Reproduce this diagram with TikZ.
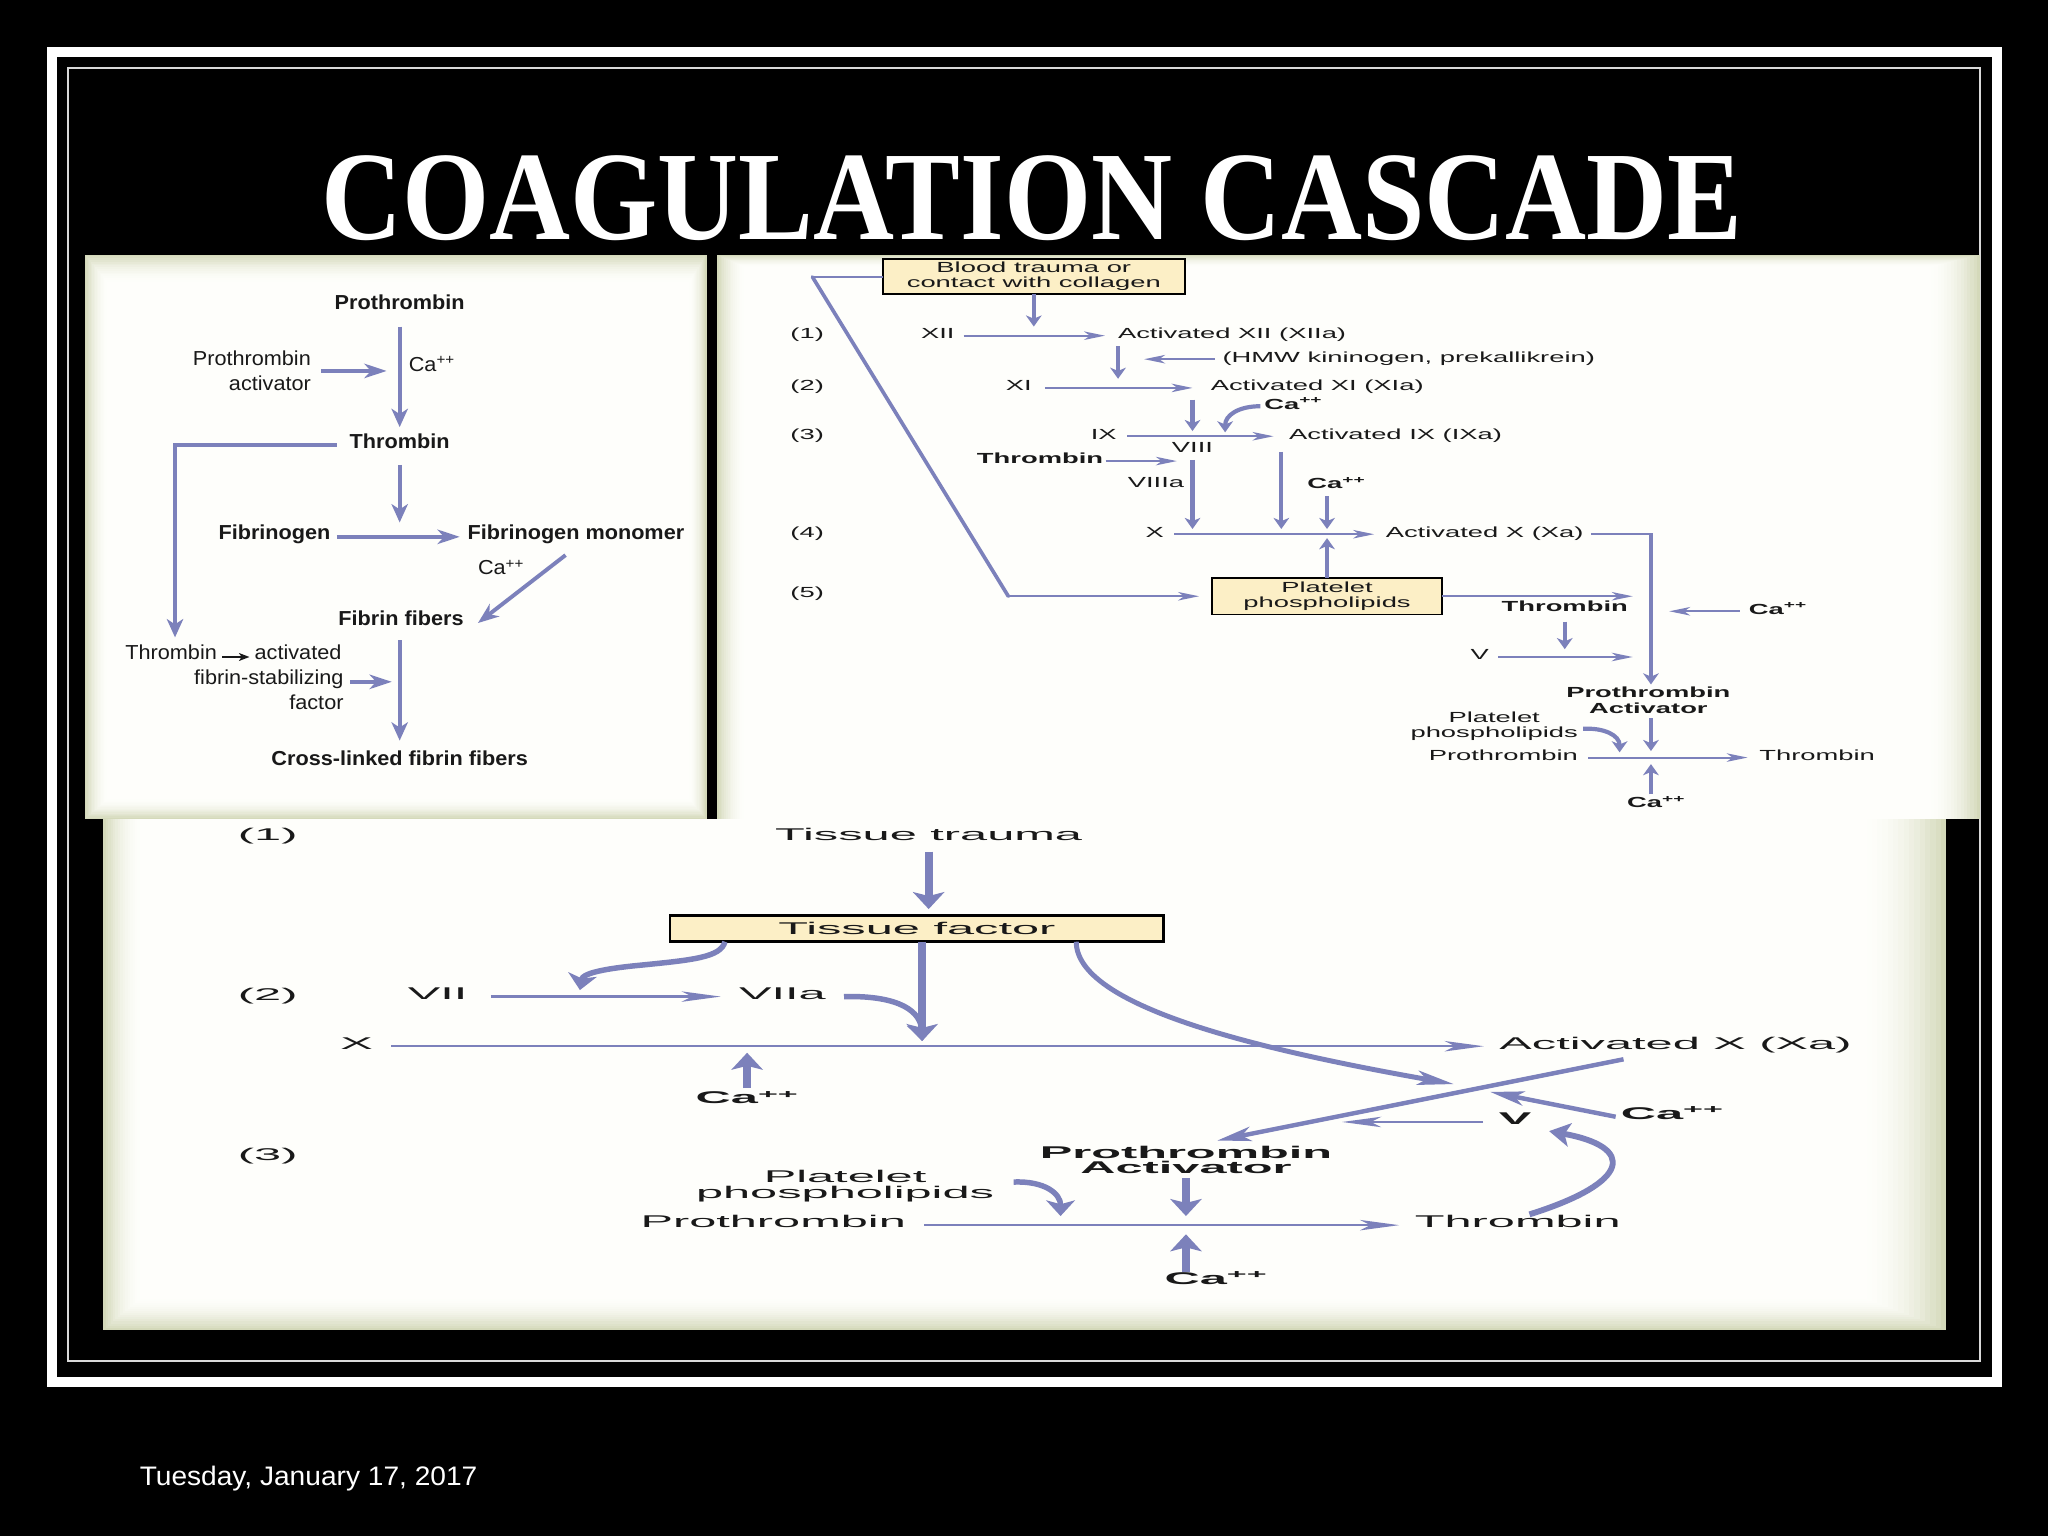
\documentclass[tikz,border=0pt]{standalone}
\usepackage{fontspec}
\usetikzlibrary{arrows.meta,calc}
\newfontfamily\lpfont[FakeStretch=1.07]{Liberation Sans}
\newfontfamily\trfont[FakeStretch=1.87]{Liberation Sans}
\newfontfamily\btfont[FakeStretch=2.87]{Liberation Sans}
\newfontfamily\ttlfont[FakeStretch=0.885]{Liberation Serif}
\newfontfamily\datefont[FakeStretch=1.05]{Liberation Sans}
\definecolor{arr}{RGB}{124,129,187}
\definecolor{boxc}{RGB}{252,239,198}
\definecolor{edgec}{RGB}{212,217,186}
\definecolor{paperc}{RGB}{254,254,251}
\definecolor{txt}{RGB}{25,25,25}
\newcommand\vign[8]{%
  \foreach \k in {0,...,16}{%
    \pgfmathsetmacro\fr{\k/16}%
    \pgfmathtruncatemacro\pc{100*(1-\fr)*(1-\fr)}%
    \fill[edgec!\pc!paperc] ({#1+\fr*#5},{#2+\fr*#6}) rectangle ({#3-\fr*#7},{#4-\fr*#8});
  }}
\tikzset{
  every node/.style={inner sep=0pt, outer sep=0pt, text=txt},
  lpr/.style={font=\lpfont\fontsize{15.5}{19}\selectfont, anchor=mid},
  lpb/.style={font=\lpfont\bfseries\fontsize{15.5}{19}\selectfont, anchor=mid},
  trr/.style={font=\trfont\fontsize{11.2}{11}\selectfont, anchor=mid},
  trb/.style={font=\trfont\bfseries\fontsize{11.2}{12}\selectfont, anchor=mid},
  btr/.style={font=\btfont\fontsize{13}{12}\selectfont, anchor=mid},
  btb/.style={font=\btfont\bfseries\fontsize{13}{12}\selectfont, anchor=mid},
  ybox/.style={draw=black, fill=boxc, align=center},
  lpV/.style={draw=arr, line width=3pt, -{Stealth[length=14pt,width=12.5pt,inset=4pt]}},
  lpH/.style={draw=arr, line width=3pt, -{Stealth[length=17pt,width=11pt,inset=5pt]}},
  lpD/.style={draw=arr, line width=3pt, -{Stealth[length=16pt,width=12pt,inset=5pt]}},
  lpS/.style={draw=txt, line width=1.3pt, -{Stealth[length=8pt,width=6pt,inset=2pt]}},
  trVa/.style={draw=arr, line width=3.2pt, -{Stealth[length=8.5pt,width=12pt,inset=2.5pt]}},
  trH/.style={draw=arr, line width=1.6pt, -{Stealth[length=16pt,width=6.5pt,inset=4.5pt]}},
  trthin/.style={draw=arr, line width=1.6pt},
  trdiag/.style={draw=arr, line width=2.8pt, line cap=round},
  btVa/.style={draw=arr, line width=6pt, -{Stealth[length=13pt,width=24pt,inset=3pt]}},
  btH/.style={draw=arr, line width=1.8pt, -{Stealth[length=30pt,width=8pt,inset=8pt]}},
  btCv/.style={draw=arr, line width=4.2pt, -{Stealth[length=12pt,width=22pt,inset=3pt]}},
  btCd/.style={draw=arr, line width=3.8pt, -{Stealth[length=28pt,width=11pt,inset=7pt]}},
  btD/.style={draw=arr, line width=3.4pt, -{Stealth[length=26pt,width=11pt,inset=7pt]}},
  btCt/.style={draw=arr, line width=4.5pt, -{Stealth[length=16pt,width=18pt,inset=4pt]}},
}
\begin{document}
\begin{tikzpicture}[x=1pt,y=-1pt]
\useasboundingbox (0,0) rectangle (1568,1176);
\fill[black] (0,0) rectangle (1568,1176);
% frame
\draw[white, line width=7.7pt] (39.5,39.5) rectangle (1528.8,1058);
\draw[white!85!black, line width=1.5pt] (52.3,52.3) rectangle (1516,1041.8);
% title
\node[font=\ttlfont\bfseries\fontsize{97}{100}\selectfont, text=white, anchor=base, text depth=0pt] (title) at (790,183) {COAGULATION CASCADE};
% panels
\vign{65}{195}{541}{627}{18}{22}{14}{16}
\vign{549}{195}{1516}{627}{22}{10}{40}{0}
\vign{79}{627}{1490}{1018}{30}{0}{65}{25}

% ---------------- left panel ----------------
\node[lpb] (lpPro) at (306,235) {Prothrombin};
\node[lpr, align=right, anchor=east] (lpAct) at (238,284) {Prothrombin\\activator};
\node[lpr, anchor=mid west] (lpCa1) at (313,282) {Ca\textsuperscript{++}};
\node[lpb] (lpThr) at (306,341) {Thrombin};
\node[lpb, anchor=mid east] (lpFgn) at (253,411) {Fibrinogen};
\node[lpb, anchor=mid west] (lpMon) at (358,411) {Fibrinogen monomer};
\node[lpr, anchor=mid west] (lpCa2) at (366,438) {Ca\textsuperscript{++}};
\node[lpb] (lpFib) at (307,477) {Fibrin fibers};
\node[lpr, anchor=mid west] (lpT2) at (96,503) {Thrombin};
\node[lpr, anchor=mid west] (lpAd) at (195,503) {activated};
\node[lpr, anchor=mid east] (lpFs) at (263,522) {fibrin-stabilizing};
\node[lpr, anchor=mid east] (lpFa) at (263,541) {factor};
\node[lpb] (lpCross) at (306,584) {Cross-linked fibrin fibers};
\coordinate (lpJ0) at (296,284);
\coordinate (lpJ1) at (134,488);
\coordinate (lpD1) at (433,425);
\draw[lpV] (lpPro |- 0,250) -- (lpThr |- 0,327);
\draw[lpH] ([xshift=8pt]lpAct.east) -- (lpJ0);
\draw[lpV] ([xshift=-10pt]lpThr.mid west) -| (lpJ1);
\draw[lpV] (lpThr |- 0,356) -- (lpThr |- 0,400);
\draw[lpH] ([xshift=5pt]lpFgn.mid east) -- ([xshift=-6pt]lpMon.mid west);
\draw[lpD] (lpD1) -- ([xshift=11pt]lpFib.mid east);
\draw[lpV] (lpCross |- 0,490) -- (lpCross |- 0,567);
\draw[lpH] ([xshift=5pt]lpFs.mid east) -- ++(32,0);
\draw[lpS] ([xshift=4pt]lpT2.mid east) -- ([xshift=-4pt]lpAd.mid west);

% ---------------- top right panel ----------------
\node[ybox, trr, anchor=center, line width=1.4pt, minimum width=231pt, minimum height=27pt] (trBox) at (791.5,211.5) {Blood trauma or\\contact with collagen};
\node[trr] (trN1) at (618,257) {(1)};
\node[trr] (trN2) at (618,297) {(2)};
\node[trr] (trN3) at (618,334) {(3)};
\node[trr] (trN4) at (618,409) {(4)};
\node[trr] (trN5) at (618,455) {(5)};
\node[trr] (trXII) at (718,257) {XII};
\node[trr, anchor=mid west] (trXIIa) at (856,257) {Activated XII (XIIa)};
\node[trr, anchor=mid west] (trHMW) at (936,275) {(HMW kininogen, prekallikrein)};
\node[trr] (trXI) at (780,297) {XI};
\node[trr, anchor=mid west] (trXIa) at (927,297) {Activated XI (XIa)};
\node[trb, anchor=mid west] (trCa1) at (968,311) {Ca\textsuperscript{++}};
\node[trr] (trIX) at (845,334) {IX};
\node[trr, anchor=mid west] (trIXa) at (987,334) {Activated IX (IXa)};
\node[trr] (trVIII) at (913,344) {VIII};
\node[trb, anchor=mid west] (trThr) at (748,353) {Thrombin};
\node[trr] (trVIIIa) at (885,371) {VIIIa};
\node[trb, anchor=mid west] (trCa2) at (1001,372) {Ca\textsuperscript{++}};
\node[trr] (trX) at (884,409) {X};
\node[trr, anchor=mid west] (trXa) at (1061,409) {Activated X (Xa)};
\node[ybox, trr, anchor=center, line width=1.4pt, minimum width=176pt, minimum height=28pt] (trPlat) at (1016,456.5) {Platelet\\phospholipids};
\node[trb] (trThr2) at (1198,466) {Thrombin};
\node[trr] (trV) at (1133,503) {V};
\node[trb, anchor=mid west] (trCa3) at (1339,468) {Ca\textsuperscript{++}};
\node[trb, align=center, anchor=center] (trPA) at (1262,536) {Prothrombin\\Activator};
\node[trr, align=center, anchor=center] (trPP) at (1144,556) {Platelet\\phospholipids};
\node[trr, anchor=mid east] (trPro) at (1208,580) {Prothrombin};
\node[trr, anchor=mid west] (trThr3) at (1347,580) {Thrombin};
\node[trb] (trCa4) at (1268,616) {Ca\textsuperscript{++}};
\coordinate (trC1) at (622,212);
\coordinate (trC2) at (772,456.5);
\coordinate (trK1) at (938,331);
\coordinate (trK2) at (901,353);
\coordinate (trK3) at (981,346);
\coordinate (trK4) at (1264,409);
\coordinate (trK5) at (1250,456.5);
\coordinate (trK6) at (1250,503);
\coordinate (trK7) at (1240,576);
\draw[trVa] (trBox.south) -- (trBox.south |- 0,250);
\draw[trthin] (trBox.west |- trC1) -- (trC1);
\draw[trdiag] (trC1) -- (trC2);
\draw[trH] (trC2) -- ($(trC2 -| trPlat.west)+(-10,0)$);
\draw[trH] ([xshift=7pt]trXII.mid east) -- ([xshift=-10pt]trXIIa.mid west);
\draw[trVa] (trXIIa.mid west |- 0,265) -- (trXIIa.mid west |- 0,290);
\draw[trH] ([xshift=-6pt]trHMW.mid west) -- ++(-54,0);
\draw[trH] ([xshift=10pt]trXI.mid east) -- ([xshift=-14pt]trXIa.mid west);
\draw[trVa] (trVIII |- 0,306) -- (trVIII |- 0,330);
\draw[trVa] ([xshift=-3pt]trCa1.mid west) .. controls (948,311) and (938,318) .. (trK1);
\draw[trH] ([xshift=8pt]trIX.mid east) -- ([xshift=-12pt]trIXa.mid west);
\draw[trH] ([xshift=2pt]trThr.mid east) -- (trK2);
\draw[trVa] (trVIII |- 0,352) -- (trVIII |- 0,405);
\draw[trVa] (trK3) -- (trK3 |- 0,405);
\draw[trVa] (trPlat |- 0,380) -- (trPlat |- 0,405);
\draw[trH] ([xshift=8pt]trX.mid east) -- ([xshift=-9pt]trXa.mid west);
\draw[trVa] (trPlat.north) -- (trPlat |- 0,412);
\draw[trthin] ([xshift=6pt]trXa.mid east) -- (trK4);
\draw[trVa] (trK4 |- 0,408.2) -- (trK4 |- 0,524);
\draw[trH] (trPlat.east) -- (trK5);
\draw[trVa] (trThr2 |- 0,476) -- (trThr2 |- 0,497);
\draw[trH] ([xshift=7pt]trV.mid east) -- (trK6);
\draw[trH] ([xshift=-7pt]trCa3.mid west) -- ++(-54,0);
\draw[trVa] ($(trPP.east)+(4,2)$) .. controls (1228,557) and (1240,563) .. (trK7);
\draw[trVa] (trK4 |- 0,550) -- (trK4 |- 0,575);
\draw[trH] ([xshift=8pt]trPro.mid east) -- ([xshift=-9pt]trThr3.mid west);
\draw[trVa] (trK4 |- 0,608) -- (trK4 |- 0,585);

% ---------------- bottom panel ----------------
\node[btr] (btN1) at (205,641) {(1)};
\node[btr] (btN2) at (205,764) {(2)};
\node[btr] (btN3) at (205,886) {(3)};
\node[btr] (btTT) at (711,641) {Tissue trauma};
\node[ybox, btr, anchor=center, line width=2.2pt, minimum width=378pt, minimum height=20pt] (btTF) at (702,711) {Tissue factor};
\node[btr] (btVII) at (335,763) {VII};
\node[btr] (btVIIa) at (599,763) {VIIa};
\node[btr] (btX) at (273,801) {X};
\node[btr, anchor=mid west] (btXa) at (1148,801) {Activated X (Xa)};
\node[btb] (btCa1) at (572,843) {Ca\textsuperscript{++}};
\node[btb] (btV) at (1160,859) {V};
\node[btb, anchor=mid west] (btCa2) at (1241,855) {Ca\textsuperscript{++}};
\node[btb, align=center, anchor=center] (btPA) at (908,888) {Prothrombin\\Activator};
\node[btr, align=center, anchor=center] (btPP) at (647,908) {Platelet\\phospholipids};
\node[btr] (btPro) at (592,938) {Prothrombin};
\node[btr] (btThr) at (1162,938) {Thrombin};
\node[btb] (btCa3) at (931,981) {Ca\textsuperscript{++}};
\coordinate (btK0) at (444,758);
\coordinate (btK1) at (706,797);
\coordinate (btK2) at (1113,830);
\coordinate (btK3) at (1243,811);
\coordinate (btK5) at (1141,836);
\coordinate (btK6) at (1186,866);
\coordinate (btK7) at (812,931);
\draw[btVa] (btTT |- 0,652) -- (btTT |- 0,696);
\draw[btCv] (btTF.south -| 555,0) .. controls (552,733) and (530,735) .. (490,739) .. controls (458,742) and (446,746) .. (btK0);
\draw[btH] ([xshift=18pt]btVII.mid east) -- ([xshift=-14pt]btVIIa.mid west);
\draw[btCv] ([xshift=14pt]btVIIa.mid east) .. controls (690,762) and (705,775) .. (btK1);
\draw[btVa] (btK1 |- btTF.south) -- (btK1);
\draw[btH] ([xshift=14pt]btX.mid east) -- ([xshift=-12pt]btXa.mid west);
\draw[btVa] (btCa1 |- 0,833) -- (btCa1 |- 0,806);
\draw[btCd] (btTF.south -| 824,0) .. controls (824,770) and (960,803) .. (btK2);
\draw[btD] (btK3) -- ($(btPA.north)+(24,-4)$);
\draw[btD] ([xshift=-4pt]btCa2.mid west) -- (btK5);
\draw[btH] ([xshift=-12pt]btV.mid west) -- ++(-108,0);
\draw[btCt] ($(btThr.north)+(9,-1)$) .. controls (1250,905) and (1252,878) .. (btK6);
\draw[btCv] ($(btPP.east)+(15,-3)$) .. controls (800,904) and (812,914) .. (btK7);
\draw[btVa] (btPA |- 0,902) -- (btPA |- 0,931);
\draw[btH] ([xshift=14pt]btPro.mid east) -- ([xshift=-12pt]btThr.mid west);
\draw[btVa] (btPA |- 0,974) -- (btPA |- 0,945);

% date
\node[font=\datefont\fontsize{20.5}{24}\selectfont, text=white, anchor=base west] (date) at (107,1137.5) {Tuesday, January 17, 2017};
\end{tikzpicture}
\end{document}
